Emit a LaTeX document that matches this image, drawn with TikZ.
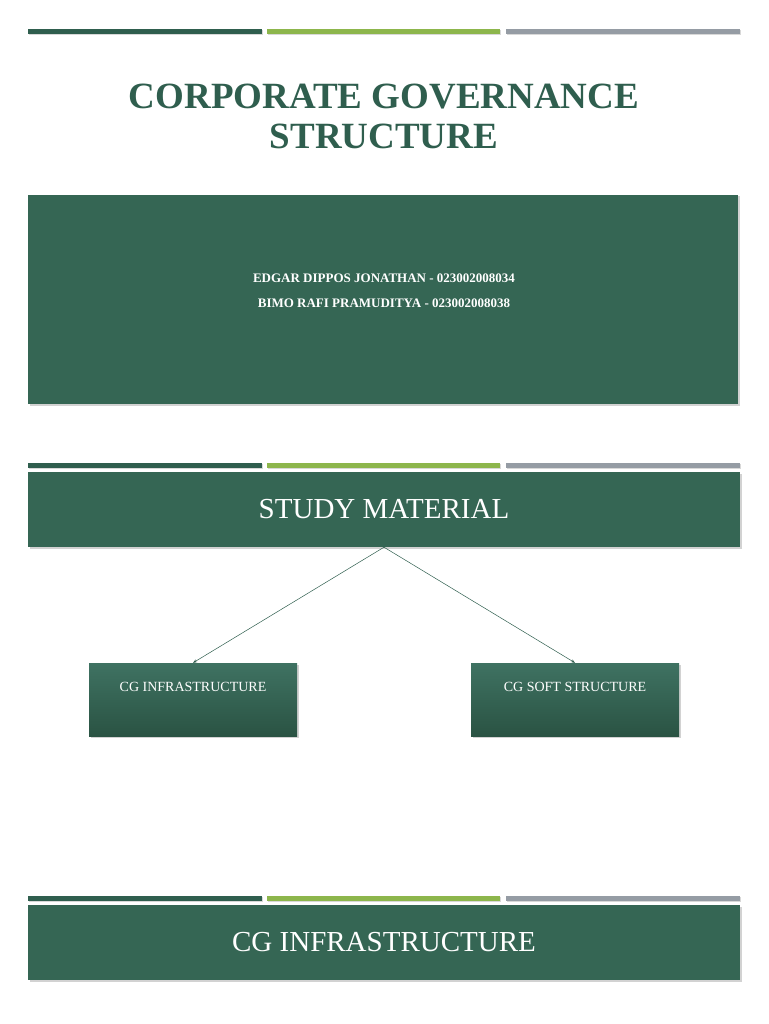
\documentclass[tikz,border=0pt]{standalone}
\usepackage{fontspec}
\setmainfont{Liberation Serif}
\usetikzlibrary{shadows,arrows.meta}
\definecolor{dg}{HTML}{356654}
\definecolor{tg}{HTML}{2F5E4E}
\definecolor{lg}{HTML}{8DB64C}
\definecolor{gy}{HTML}{959CA4}
\definecolor{gtop}{HTML}{3F7262}
\definecolor{gbot}{HTML}{2A5343}
\tikzset{
 bar/.style={minimum height=5pt,inner sep=0pt,draw=none,drop shadow={shadow xshift=1pt,shadow yshift=-1pt,opacity=.3}},
 panel/.style={fill=dg,draw=none,inner sep=0pt,drop shadow={shadow xshift=1.5pt,shadow yshift=-1.5pt,opacity=.35}},
 leaf/.style={draw=none,top color=gtop,bottom color=gbot,minimum width=208pt,minimum height=73pt,inner sep=0pt,drop shadow={shadow xshift=2pt,shadow yshift=-2pt,opacity=.35}},
 link/.style={draw=tg,line width=0.5pt,-{Stealth[length=4pt,width=3pt]}}
}
\begin{document}
\begin{tikzpicture}[x=1pt,y=1pt]
\useasboundingbox (0,0) rectangle (768,-1024);
\fill[white] (0,0) rectangle (768,-1024);
\foreach \y/\n in {32/a,465/b,898/c}{
 \node[bar,fill=tg,minimum width=234pt] (bar1\n) at (145,-\y) {};
 \node[bar,fill=lg,minimum width=233pt] (bar2\n) at (383.5,-\y) {};
 \node[bar,fill=gy,minimum width=234pt] (bar3\n) at (623,-\y) {};
}
\node[text=tg,font=\bfseries\fontsize{37}{40}\selectfont,align=center] (title) at (384,-116) {CORPORATE GOVERNANCE\\STRUCTURE};
\node[panel,minimum width=710pt,minimum height=209pt] (authors) at (383,-299.5) {};
\node[text=white,font=\bfseries\fontsize{13}{25}\selectfont,align=center] (names) at (384,-290.5) {EDGAR DIPPOS JONATHAN - 023002008034\\BIMO RAFI PRAMUDITYA - 023002008038};
\node[panel,minimum width=712pt,minimum height=75pt,text=white,font=\fontsize{29}{32}\selectfont] (study) at (384,-509.5) {STUDY MATERIAL};
\node[leaf] (infra) at (193,-699.5) {};
\node[text=white,font=\fontsize{14}{16}\selectfont] at (193,-687) {CG INFRASTRUCTURE};
\node[leaf] (soft) at (575,-699.5) {};
\node[text=white,font=\fontsize{14}{16}\selectfont] at (575,-687) {CG SOFT STRUCTURE};
\draw[link] (study.south) -- (infra.north);
\draw[link] (study.south) -- (soft.north);
\node[panel,minimum width=712pt,minimum height=75pt,text=white,font=\fontsize{29}{32}\selectfont] (cginf) at (384,-942.5) {CG INFRASTRUCTURE};
\end{tikzpicture}
\end{document}
